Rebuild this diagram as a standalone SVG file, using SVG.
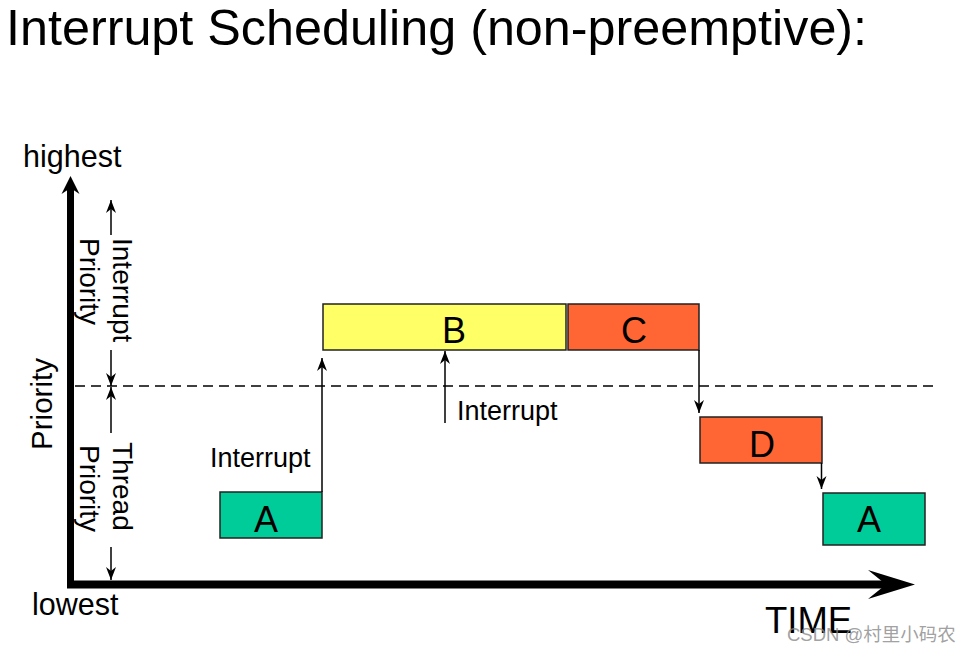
<svg xmlns="http://www.w3.org/2000/svg" width="973" height="654" viewBox="0 0 973 654">
<style>
text{font-family:"Liberation Sans",Arial,sans-serif;fill:#000}
.t28{font-size:28px}
.lbl{font-size:27px}
.big{font-size:36px;text-anchor:middle}
.box{stroke:#222;stroke-width:1.5}
.thin{stroke:#000;stroke-width:1.5;fill:none}
</style>
<defs>
<marker id="ah" markerUnits="userSpaceOnUse" markerWidth="15" markerHeight="12" viewBox="-14 -6 15 12" refX="0" refY="0" orient="auto">
<path d="M0,0 L-13,-5 L-9,0 L-13,5 Z" fill="#000"/>
</marker>
</defs>
<rect width="973" height="654" fill="#fff"/>
<text x="6" y="45" style="font-size:50.3px">Interrupt Scheduling (non-preemptive):</text>

<g id="axes">
<line x1="70.5" y1="588" x2="70.5" y2="186" stroke="#000" stroke-width="7"/>
<path d="M70.5,176 L79.5,194 L70.5,188 L61.5,194 Z" fill="#000"/>
<line x1="67" y1="584.5" x2="888" y2="584.5" stroke="#000" stroke-width="8"/>
<path d="M915,584.5 L868,570 L886,584.5 L868,599 Z" fill="#000"/>
<text x="23" y="167" style="font-size:30.5px">highest</text>
<text x="32" y="615" style="font-size:30.5px">lowest</text>
<text transform="translate(52,404) rotate(-90)" style="font-size:29.5px" text-anchor="middle">Priority</text>
<text x="765" y="633" style="font-size:36.5px">TIME</text>
</g>

<g id="ranges">
<line x1="75" y1="386" x2="935" y2="386" stroke="#000" stroke-width="1.5" stroke-dasharray="10,6"/>
<line class="thin" x1="111" y1="235" x2="111" y2="200" marker-end="url(#ah)"/>
<line class="thin" x1="111" y1="350" x2="111" y2="386" marker-end="url(#ah)"/>
<line class="thin" x1="111" y1="433" x2="111" y2="387" marker-end="url(#ah)"/>
<line class="thin" x1="111" y1="547" x2="111" y2="580" marker-end="url(#ah)"/>
<text transform="translate(113,238) rotate(90)" class="t28">Interrupt</text>
<text transform="translate(80,238) rotate(90)" class="t28">Priority</text>
<text transform="translate(113,442) rotate(90)" class="t28">Thread</text>
<text transform="translate(80,445) rotate(90)" class="t28">Priority</text>
</g>

<g id="nodeA1">
<rect class="box" x="220" y="492" width="102" height="46" fill="#00CC99"/>
<text class="big" x="266" y="532">A</text>
</g>
<g id="nodeB">
<rect class="box" x="323" y="304" width="243" height="46" fill="#FFFF66"/>
<text class="big" x="454" y="343">B</text>
</g>
<g id="nodeC">
<rect class="box" x="568" y="304" width="131" height="46" fill="#FF6633"/>
<text class="big" x="634" y="343">C</text>
</g>
<g id="nodeD">
<rect class="box" x="700" y="417" width="122" height="46" fill="#FF6633"/>
<text class="big" x="762" y="457">D</text>
</g>
<g id="nodeA2">
<rect class="box" x="823" y="493" width="102" height="52" fill="#00CC99"/>
<text class="big" x="869" y="532">A</text>
</g>

<g id="connectors">
<line class="thin" x1="322" y1="492" x2="322" y2="358" marker-end="url(#ah)"/>
<line class="thin" x1="445" y1="423" x2="445" y2="351" marker-end="url(#ah)"/>
<line class="thin" x1="699" y1="350" x2="699" y2="413" marker-end="url(#ah)"/>
<line class="thin" x1="821.5" y1="463" x2="821.5" y2="489" marker-end="url(#ah)"/>
<text class="lbl" x="210" y="467">Interrupt</text>
<text class="lbl" x="457" y="420">Interrupt</text>
</g>

<text x="787" y="641" style="font-size:18.5px;font-family:'Liberation Sans','Noto Sans CJK SC',sans-serif;fill:#888;fill-opacity:0.8">CSDN @村里小码农</text>
</svg>
